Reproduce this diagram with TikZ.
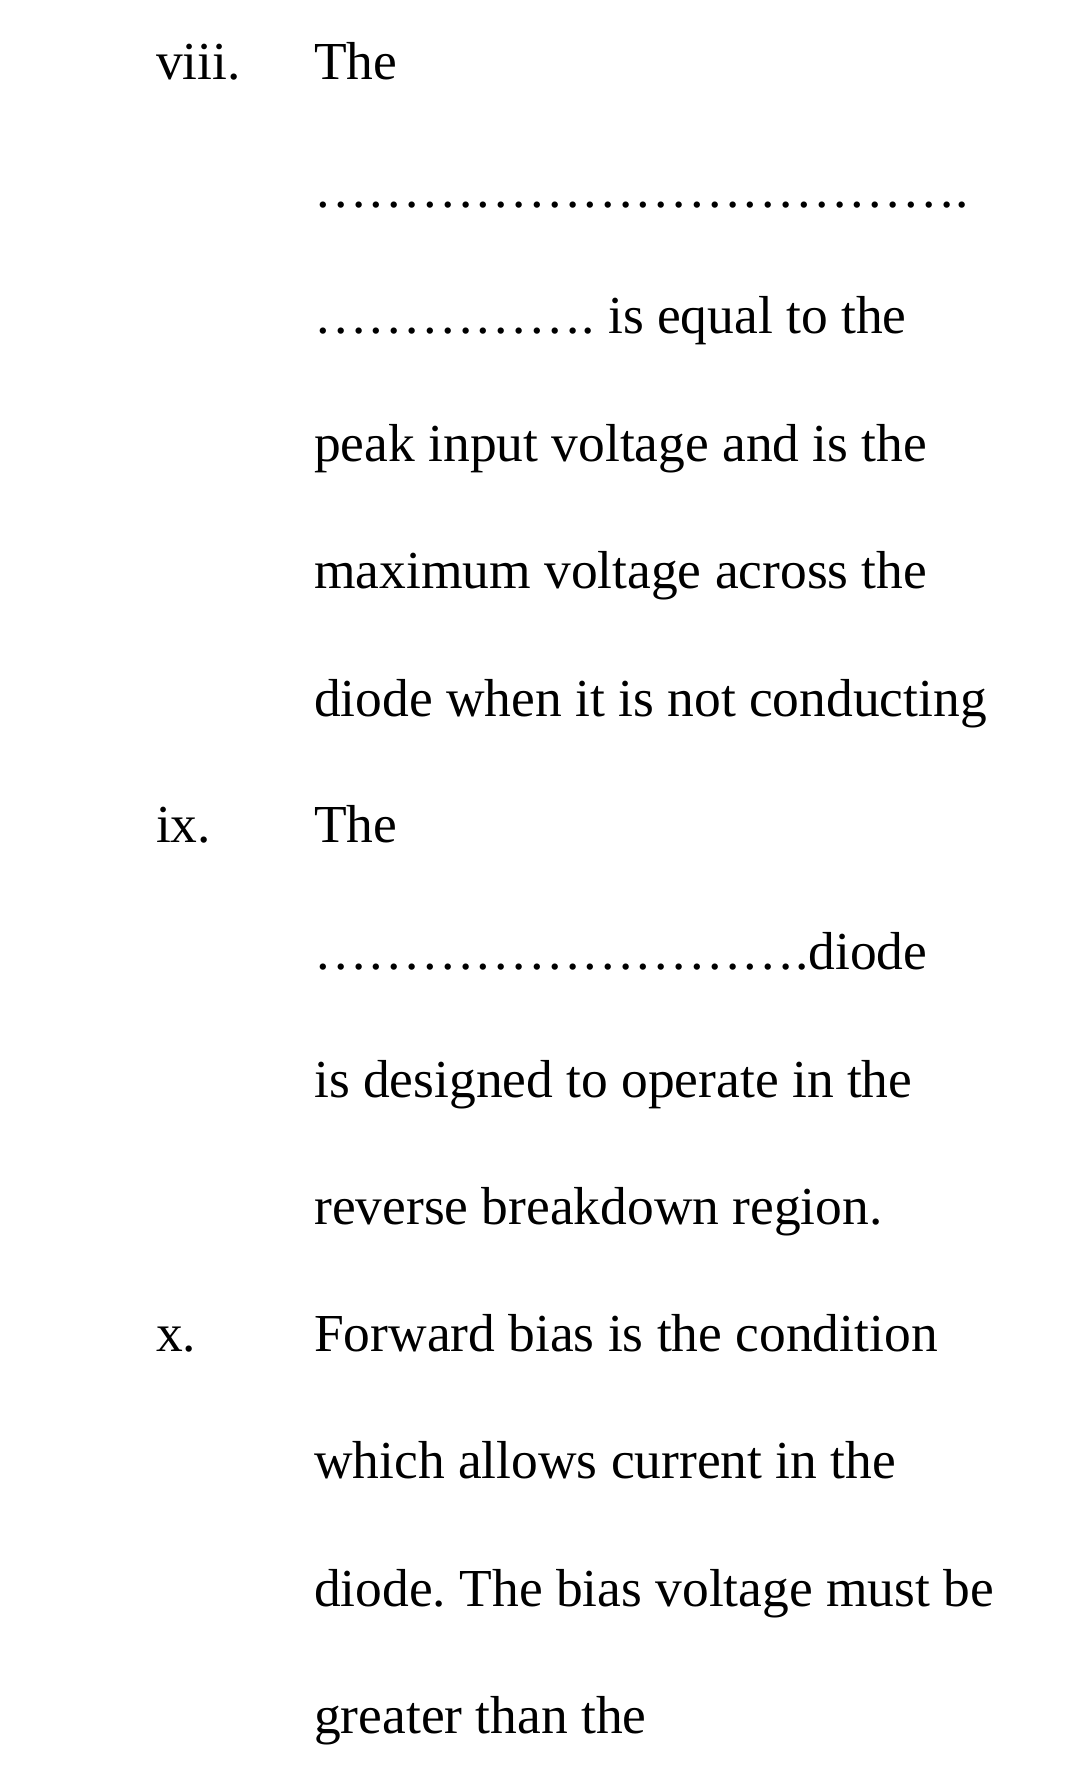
\documentclass[tikz,border=0pt]{standalone}
\usepackage{fontspec}
\setmainfont{Liberation Serif}
\begin{document}
\frenchspacing
\begin{tikzpicture}[x=1pt,y=-1.016pt,
  txt/.style={anchor=base west,inner sep=0pt,font=\fontsize{48}{56}\selectfont}]
\useasboundingbox[fill=white] (0,0) rectangle (970,1569);
\node[txt] (l1) at (140,70) {viii.};
\node[txt] (t1) at (282,70) {The};
\node[txt] (t2) at (282,183) {……………………………….};
\node[txt] (t3) at (282,295) {……………. is equal to the};
\node[txt] (t4) at (282,408) {peak input voltage and is the};
\node[txt] (t5) at (282,520) {maximum voltage across the};
\node[txt] (t6) at (282,633) {diode when it is not conducting};
\node[txt] (l2) at (140,745) {ix.};
\node[txt] (t7) at (282,745) {The};
\node[txt] (t8) at (282,857) {……………………….diode};
\node[txt] (t9) at (282,970) {is designed to operate in the};
\node[txt] (t10) at (282,1082) {reverse breakdown region.};
\node[txt] (l3) at (140,1195) {x.};
\node[txt] (t11) at (282,1195) {Forward bias is the condition};
\node[txt] (t12) at (282,1307) {which allows current in the};
\node[txt] (t13) at (282,1420) {diode. The bias voltage must be};
\node[txt] (t14) at (282,1532) {greater than the};
\end{tikzpicture}
\end{document}
